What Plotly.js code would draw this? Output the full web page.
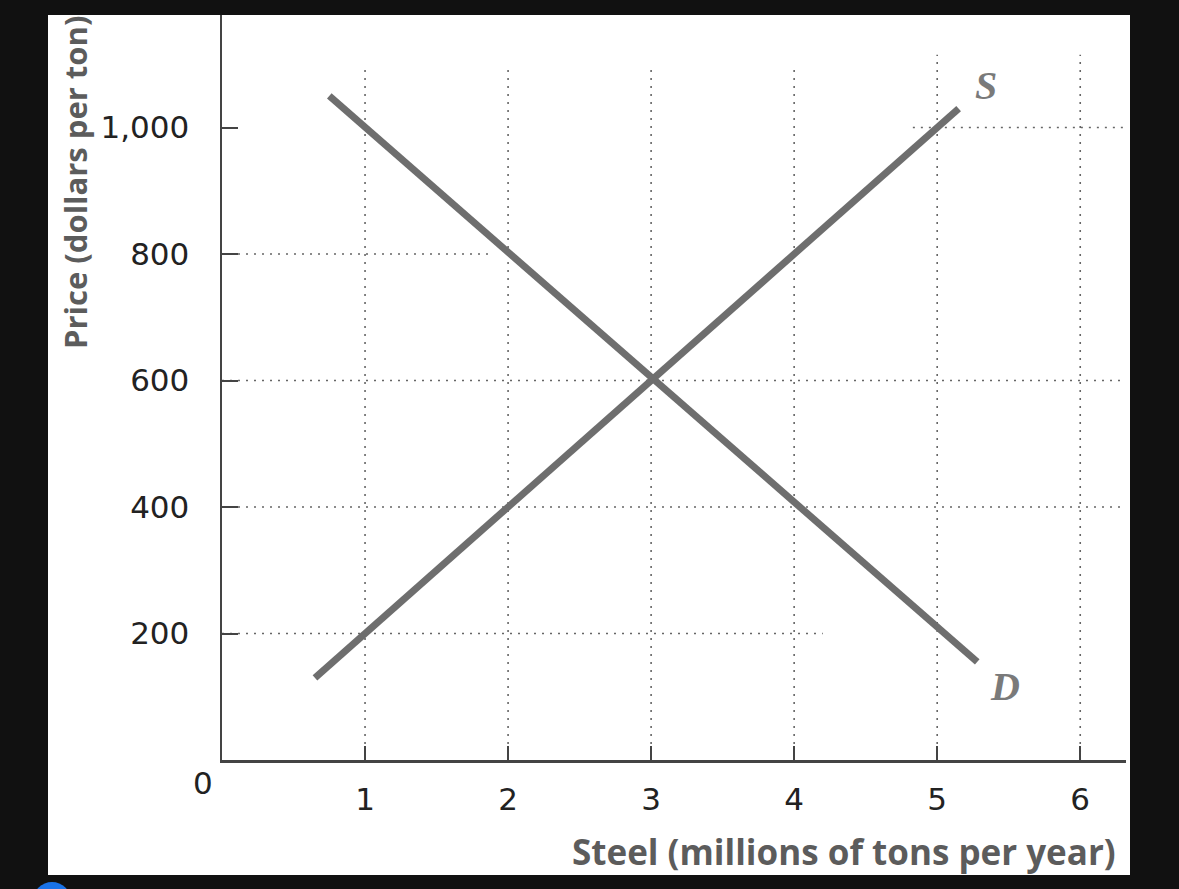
<!DOCTYPE html>
<html>
<head>
<meta charset="utf-8">
<script src="https://cdn.plot.ly/plotly-3.0.1.min.js"></script>
<style>
html,body{margin:0;padding:0;background:#111111;}
#chart{width:1179px;height:889px;}
</style>
</head>
<body>
<div id="chart"></div>
<script>
// ---- data ----
const supplyQ = [0.65, 5.15];
const supplyP = [130, 1030];
const demandQ = [0.75, 5.28];
const demandP = [1050, 155];

const xTickVals = [1, 2, 3, 4, 5, 6];
const xTickText = ["1", "2", "3", "4", "5", "6"];
const yTickVals = [200, 400, 600, 800, 1000];
const yTickText = ["200", "400", "600", "800", "1,000"];

const curveLabels = ["S", "D"];
const xTitle = "Steel (millions of tons per year)";
const yTitle = "Price (dollars per ton)";

// ---- partial dotted guide lines (as in the original figure) ----
const vGridTop = [1095, 1100, 1100, 1100, 1115, 1115];
const hGridFrom = [0, 0, 0, 0, 4.83];
const hGridTo = [4.2, 6.31, 6.31, 1.87, 6.31];

const gridStyle = {color: '#666666', width: 1.6, dash: '2px,6px'};
const shapes = [];
// white card
shapes.push({type: 'rect', xref: 'paper', yref: 'paper', layer: 'below',
  x0: (48 - 222) / 904, x1: (1130 - 222) / 904, y0: (760 - 875) / 745, y1: 1,
  fillcolor: '#ffffff', line: {width: 0}});
// small blue circle at the bottom-left
shapes.push({type: 'circle', xref: 'paper', yref: 'paper', layer: 'below',
  x0: (33 - 222) / 904, x1: (71 - 222) / 904, y0: (760 - 920) / 745, y1: (760 - 882) / 745,
  fillcolor: '#1a73e8', line: {width: 0}});
xTickVals.forEach((v, i) => shapes.push({type: 'line', xref: 'x', yref: 'y', layer: 'below',
  x0: v, x1: v, y0: 0, y1: vGridTop[i], line: gridStyle}));
yTickVals.forEach((v, i) => shapes.push({type: 'line', xref: 'x', yref: 'y', layer: 'below',
  x0: hGridFrom[i], x1: hGridTo[i], y0: v, y1: v, line: gridStyle}));

const lineStyle = {color: '#6e6e6e', width: 7};
const traces = [
  {x: supplyQ, y: supplyP, mode: 'lines', line: lineStyle, name: curveLabels[0], hoverinfo: 'skip'},
  {x: demandQ, y: demandP, mode: 'lines', line: lineStyle, name: curveLabels[1], hoverinfo: 'skip'}
];

const labelFont = {family: 'Liberation Serif, DejaVu Serif, serif', size: 40, color: '#7a7a7a', weight: 'bold', style: 'italic'};
const xTitleFont = {family: 'Open Sans, Lato, sans-serif', size: 35, color: '#5c5c5c', weight: 'bold'};
const yTitleFont = {family: 'Open Sans, Lato, sans-serif', size: 31, color: '#5c5c5c', weight: 'bold'};

const annotations = [
  {x: supplyQ[1] + 0.19, y: supplyP[1] + 37, xref: 'x', yref: 'y', text: '<b><i>' + curveLabels[0] + '</i></b>',
   showarrow: false, font: labelFont, xanchor: 'center', yanchor: 'middle'},
  {x: demandQ[1] + 0.195, y: demandP[1] - 38, xref: 'x', yref: 'y', text: '<b><i>' + curveLabels[1] + '</i></b>',
   showarrow: false, font: labelFont, xanchor: 'center', yanchor: 'middle'},
  {x: (1118 - 222) / 904, y: (760 - 851) / 745, xref: 'paper', yref: 'paper', text: '<b>' + xTitle + '</b>',
   showarrow: false, font: xTitleFont, xanchor: 'right', yanchor: 'middle'},
  {x: (75 - 222) / 904, y: (760 - 183) / 745, xref: 'paper', yref: 'paper', text: '<b>' + yTitle + '</b>',
   showarrow: false, font: yTitleFont, textangle: -90, xanchor: 'center', yanchor: 'middle'},
  {x: (203 - 222) / 904, y: (760 - 783) / 745, xref: 'paper', yref: 'paper', text: '0',
   showarrow: false, font: {family: 'DejaVu Sans, sans-serif', size: 31, color: '#222222'}, xanchor: 'center', yanchor: 'middle'}
];

const tickFont = {family: 'DejaVu Sans, sans-serif', size: 31, color: '#222222'};
const layout = {
  width: 1179, height: 889,
  paper_bgcolor: '#111111', plot_bgcolor: '#ffffff',
  margin: {l: 222, r: 53, t: 15, b: 129, pad: 0},
  showlegend: false,
  xaxis: {range: [0, 6.32], showgrid: false, zeroline: false, showline: true, linecolor: '#444444', linewidth: 2.5,
    tickvals: xTickVals, ticktext: xTickText, ticks: 'inside', ticklen: 14, tickwidth: 2, tickcolor: '#444444',
    tickfont: tickFont, ticklabelstandoff: 10, fixedrange: true},
  yaxis: {range: [0, 1178], showgrid: false, zeroline: false, showline: true, linecolor: '#444444', linewidth: 2.5,
    tickvals: yTickVals, ticktext: yTickText, ticks: 'inside', ticklen: 16, tickwidth: 2, tickcolor: '#444444',
    tickfont: tickFont, ticklabelstandoff: 24, fixedrange: true},
  shapes: shapes,
  annotations: annotations
};

Plotly.newPlot('chart', traces, layout, {displayModeBar: false, staticPlot: true});
</script>
</body>
</html>
